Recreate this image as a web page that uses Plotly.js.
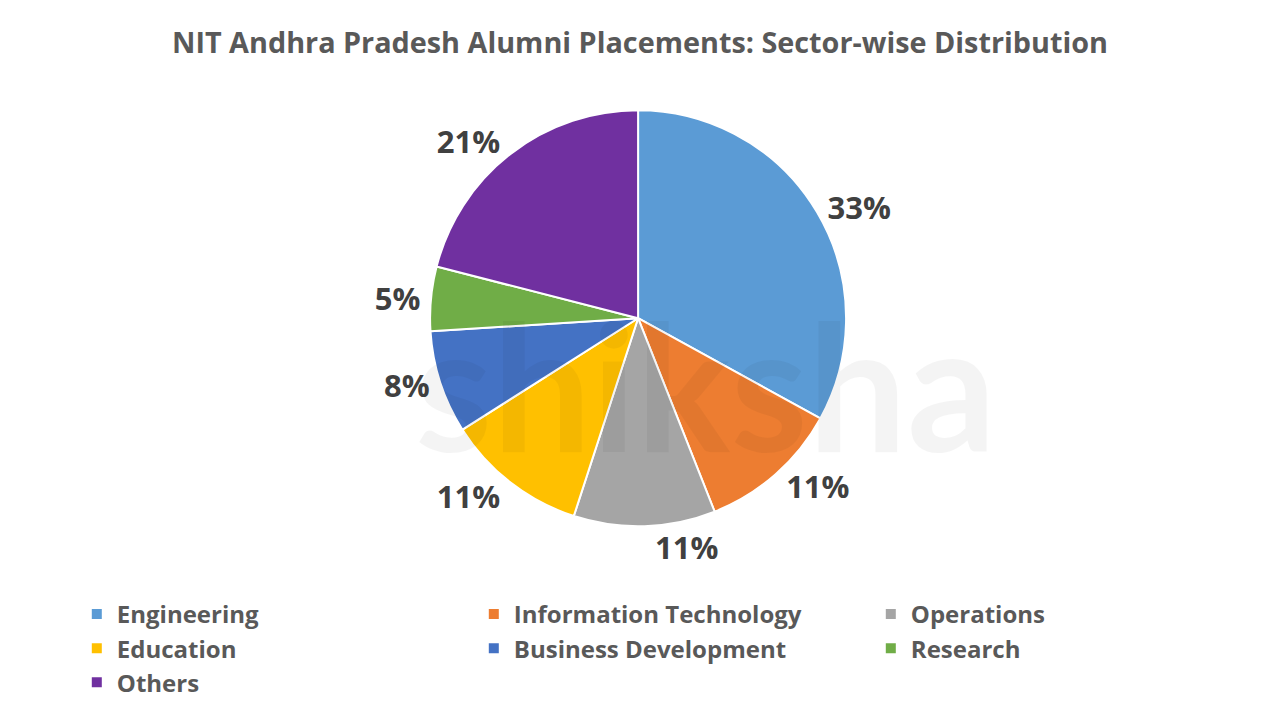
<!DOCTYPE html>
<html>
<head>
<meta charset="utf-8">
<script src="https://cdn.plot.ly/plotly-3.0.1.min.js"></script>
<style>html,body{margin:0;padding:0;background:#fff;}#chart{width:1280px;height:720px;}</style>
</head>
<body>
<div id="chart"></div>
<script>
const sectors = ["Engineering", "Information Technology", "Operations", "Education", "Business Development", "Research", "Others"];
const shares = [33, 11, 11, 11, 8, 5, 21];
const labelsText = ["33%", "11%", "11%", "11%", "8%", "5%", "21%"];
const colors = ["#5B9BD5", "#ED7D31", "#A5A5A5", "#FFC000", "#4472C4", "#70AD47", "#7030A0"];

const trace = {
  type: "pie",
  labels: sectors,
  values: shares,
  text: labelsText,
  textinfo: "text",
  textposition: "outside",
  sort: false,
  direction: "clockwise",
  rotation: 0,
  marker: {colors: colors, line: {color: "#ffffff", width: 2}},
  outsidetextfont: {family: "'Open Sans', sans-serif", size: 31, color: "#404040", weight: "bold"},
  domain: {x: [0.336, 0.661], y: [0.269, 0.847]},
  hoverinfo: "label+percent"
};

const layout = {
  width: 1280, height: 720,
  margin: {l: 0, r: 0, t: 0, b: 0, autoexpand: false},
  paper_bgcolor: "#ffffff",
  title: {
    text: "<b>NIT Andhra Pradesh Alumni Placements: Sector-wise Distribution</b>",
    font: {family: "'Open Sans', sans-serif", size: 28.8, color: "#595959"},
    x: 0.5, xanchor: "center", y: 0.941, yanchor: "middle"
  },
  showlegend: true,
  legend: {
    orientation: "h",
    x: 0.06, xanchor: "left",
    y: 0.178, yanchor: "top",
    entrywidth: 352, entrywidthmode: "pixels",
    font: {family: "'Open Sans', sans-serif", size: 24, color: "#595959", weight: "bold"},
    itemwidth: 30
  },
  annotations: [{
    text: "shiksha", showarrow: false, xref: "paper", yref: "paper",
    x: 0.551, y: 0.468, xanchor: "center", yanchor: "middle",
    font: {family: "Lato, sans-serif", size: 176, color: "rgba(0,0,0,0.045)", weight: "bold"}
  }]
};

Plotly.newPlot("chart", [trace], layout, {displayModeBar: false, staticPlot: true});
</script>
</body>
</html>
